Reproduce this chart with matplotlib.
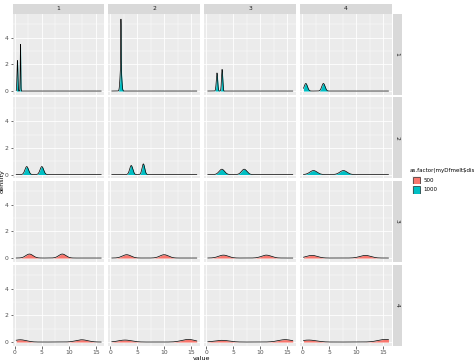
import matplotlib
matplotlib.use("Agg")
import matplotlib.pyplot as plt
import numpy as np

# facet labels (rows and columns of the grid) and the legend groups
col_labels = ["1", "2", "3", "4"]
row_labels = ["1", "2", "3", "4"]
dist_levels = ["500", "1000"]
dist_colors = ["#F8766D", "#00BFC4"]
row_dist = [1, 1, 0, 0]  # which dist level is drawn in each row

# density peaks: centre, height, spread, per panel [row][col]
peak_centres = [
    [[0.48, 1.04], [1.93, 1.95], [1.95, 2.9], [0.68, 3.94]],
    [[2.2, 5.0], [3.85, 6.1], [2.85, 7.0], [2.1, 7.65]],
    [[2.7, 8.8], [3.0, 9.95], [3.15, 11.1], [1.8, 11.7]],
    [[1.0, 12.4], [2.7, 14.4], [2.85, 14.6], [1.2, 15.5]],
]
peak_heights = [
    [[2.3, 3.5], [1.9, 3.55], [1.36, 1.63], [0.57, 0.57]],
    [[0.6, 0.6], [0.68, 0.8], [0.4, 0.4], [0.3, 0.3]],
    [[0.3, 0.3], [0.25, 0.25], [0.22, 0.22], [0.2, 0.2]],
    [[0.17, 0.17], [0.15, 0.2], [0.13, 0.18], [0.15, 0.2]],
]
peak_spreads = [
    [[0.08, 0.05], [0.15, 0.03], [0.13, 0.11], [0.3, 0.3]],
    [[0.33, 0.33], [0.29, 0.25], [0.5, 0.5], [0.67, 0.67]],
    [[0.67, 0.67], [0.8, 0.8], [0.9, 0.9], [1.0, 1.0]],
    [[1.1, 1.1], [1.2, 1.2], [1.3, 1.3], [1.4, 1.4]],
]
value_range = (0.25, 16.0)

W, H = 474, 363
fig = plt.figure(figsize=(W / 100, H / 100), dpi=100)
fig.patch.set_facecolor("white")

def frac(x0, y0, w, h):
    return [x0 / W, 1 - (y0 + h) / H, w / W, h / H]

col_left = [12.7, 108.3, 204.3, 300.0]
col_w = 91.7
row_top = [14.0, 97.5, 181.0, 265.0]
row_h = 80.7

xs = np.linspace(value_range[0], value_range[1], 800)

for r in range(4):
    for c in range(4):
        ax = fig.add_axes(frac(col_left[c], row_top[r], col_w, row_h))
        ax.set_facecolor("#EBEBEB")
        for s in ax.spines.values():
            s.set_visible(False)
        ax.set_xlim(-0.4, 16.6)
        ax.set_ylim(-0.275, 5.78)
        ax.set_xticks([0, 5, 10, 15])
        ax.set_xticks([2.5, 7.5, 12.5], minor=True)
        ax.set_yticks([0, 2, 4])
        ax.set_yticks([1, 3, 5], minor=True)
        ax.grid(which="major", color="white", lw=0.6)
        ax.grid(which="minor", color="white", lw=0.3)
        ax.set_axisbelow(True)
        ax.tick_params(which="minor", length=0)
        ax.tick_params(which="major", length=1.8, width=0.5, color="#333333",
                       labelsize=4.3, labelcolor="#4D4D4D", pad=1)
        if c > 0:
            ax.tick_params(axis="y", left=False, labelleft=False)
        if r < 3:
            ax.tick_params(axis="x", bottom=False, labelbottom=False)

        ys = np.zeros_like(xs)
        for cen, hgt, sd in zip(peak_centres[r][c], peak_heights[r][c], peak_spreads[r][c]):
            ys += hgt * np.exp(-0.5 * ((xs - cen) / sd) ** 2)
        ax.fill_between(xs, 0, ys, color=dist_colors[row_dist[r]], lw=0)
        ax.plot(xs, ys, color="black", lw=0.5)

# column strips
for c in range(4):
    sa = fig.add_axes(frac(col_left[c], 4.0, col_w, 9.5))
    sa.set_facecolor("#D9D9D9")
    sa.set_xticks([]); sa.set_yticks([])
    for s in sa.spines.values():
        s.set_visible(False)
    sa.text(0.5, 0.5, col_labels[c], ha="center", va="center", fontsize=4.3, color="#1A1A1A",
            transform=sa.transAxes)

# row strips
for r in range(4):
    sa = fig.add_axes(frac(392.7, row_top[r], 9.0, row_h))
    sa.set_facecolor("#D9D9D9")
    sa.set_xticks([]); sa.set_yticks([])
    for s in sa.spines.values():
        s.set_visible(False)
    sa.text(0.5, 0.5, row_labels[r], ha="center", va="center", fontsize=4.3, color="#1A1A1A",
            rotation=-90, transform=sa.transAxes)

# axis titles
fig.text(202 / W, 1 - 358.5 / H, "value", ha="center", va="center", fontsize=4.6)
fig.text(2.6 / W, 1 - 181 / H, "density", ha="center", va="center", fontsize=4.6, rotation=90)

# legend (title runs off the right edge, as in the original screenshot)
fig.text(410 / W, 1 - 170 / H, "as.factor(myDfmelt$dist)", ha="left", va="center", fontsize=4.0)
key_top = [176.0, 185.7]
for i, lab in enumerate(dist_levels):
    ka = fig.add_axes(frac(412.3, key_top[i], 8.4, 8.4))
    ka.set_xlim(0, 1); ka.set_ylim(0, 1)
    ka.set_xticks([]); ka.set_yticks([])
    ka.set_facecolor("#F2F2F2")
    for s in ka.spines.values():
        s.set_visible(False)
    ka.add_patch(plt.Rectangle((0.06, 0.06), 0.88, 0.88, facecolor=dist_colors[i],
                               edgecolor="black", lw=0.4))
    fig.text(423.5 / W, 1 - (key_top[i] + 4.2) / H, lab, ha="left", va="center", fontsize=4.0)

fig.savefig("out.png", dpi=100)
